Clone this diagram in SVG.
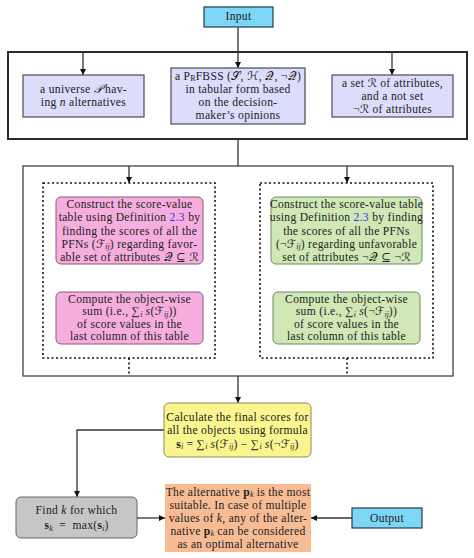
<svg xmlns="http://www.w3.org/2000/svg" width="474" height="558" viewBox="0 0 474 558">
<style>
text{font-family:"Liberation Serif","DejaVu Serif","DejaVu Sans",serif;font-size:11.6px;letter-spacing:0.3px;fill:#222;text-anchor:middle}
.io{fill:#7dd6f5;stroke:#1e3d4a;stroke-width:1.2}
.lav{fill:#dcdcfb;stroke:#4a4a5a;stroke-width:1.2}
.pink{fill:#f6aede;stroke:#8a5a7c;stroke-width:1}
.green{fill:#cfe8b6;stroke:#6f8a60;stroke-width:1}
.yel{fill:#faf58e;stroke:#8c8a5c;stroke-width:1}
.gray{fill:#c6c6c6;stroke:#666;stroke-width:1}
.orng{fill:#f8bc95;stroke:none}
.big{fill:none;stroke:#2a2a2a;stroke-width:2}
.big2{fill:none;stroke:#444;stroke-width:1.3}
.dash{fill:none;stroke:#111;stroke-width:1.6;stroke-dasharray:2 2.5}
.ln{fill:none;stroke:#333;stroke-width:1.3}
.dln{fill:none;stroke:#111;stroke-width:1.6;stroke-dasharray:2 2.5}
.it{font-style:italic}
.b{font-weight:bold}
.sm{font-size:8px;letter-spacing:0}
.blue{fill:#3333dd}
</style>
<defs>
<marker id="ah" viewBox="0 0 8 8" refX="8" refY="4" markerWidth="6" markerHeight="6" orient="auto" markerUnits="userSpaceOnUse">
<path d="M0,0 L8,4 L0,8 z" fill="#111"/>
</marker>
</defs>

<g id="containers">
<rect x="8" y="52" width="459" height="87" class="big"/>
<rect x="23" y="166" width="430" height="210" class="big2"/>
<rect id="dashL" x="43" y="183" width="172" height="175" class="dash"/>
<rect id="dashR" x="260" y="183" width="173" height="175" class="dash"/>
</g>

<g id="connectors">
<path d="M238,27 V68" class="ln" marker-end="url(#ah)"/>
<path d="M83,52 V75" class="ln" marker-end="url(#ah)"/>
<path d="M392,52 V75" class="ln" marker-end="url(#ah)"/>
<path d="M238,139 V166" class="ln"/>
<path d="M129,166 V183" class="ln" marker-end="url(#ah)"/>
<path d="M347,166 V183" class="ln" marker-end="url(#ah)"/>
<path d="M129,358 V376" class="dln"/>
<path d="M347,358 V376" class="dln"/>
<path d="M238,376 V403" class="ln" marker-end="url(#ah)"/>
<path d="M164,430 H77 V497" class="ln" marker-end="url(#ah)"/>
<path d="M137,518 H165" class="ln" marker-end="url(#ah)"/>
<path d="M352,518 H311" class="ln" marker-end="url(#ah)"/>
</g>

<g id="input">
<rect x="204" y="7" width="69" height="20" class="io"/>
<text x="238.5" y="20">Input</text>
</g>

<g id="universe">
<rect x="23" y="75" width="121" height="42" class="lav"/>
<text x="83.5" y="93">a universe <tspan class="it">𝒫</tspan> hav-</text>
<text x="83.5" y="105.5">ing <tspan class="it">n</tspan> alternatives</text>
</g>

<g id="prfbss">
<rect x="171" y="68" width="134" height="56" class="lav"/>
<text x="238" y="79.5">a P<tspan class="sm" dy="1.5">R</tspan><tspan dy="-1.5">FBSS (𝒮, ℋ, 𝒬, ¬𝒬)</tspan></text>
<text x="238" y="93">in tabular form based</text>
<text x="238" y="105.5">on the decision-</text>
<text x="238" y="118.5">maker’s opinions</text>
</g>

<g id="attributes">
<rect x="332" y="75" width="121" height="42" class="lav"/>
<text x="392.5" y="86.5">a set ℛ of attributes,</text>
<text x="392.5" y="100">and a not set</text>
<text x="392.5" y="112.5">¬ℛ of attributes</text>
</g>

<g id="pink1">
<rect x="56" y="197" width="147" height="67" rx="5" class="pink"/>
<text x="129.5" y="208">Construct the score-value</text>
<text x="129.5" y="221.3">table using Definition <tspan class="blue">2.3</tspan> by</text>
<text x="129.5" y="234.6">finding the scores of all the</text>
<text x="129.5" y="247.9">PFNs (ℱ<tspan class="sm it" dy="1.5">ij</tspan><tspan dy="-1.5">) regarding favor-</tspan></text>
<text x="129.5" y="261">able set of attributes 𝒬 ⊆ ℛ</text>
</g>

<g id="pink2">
<rect x="56" y="292" width="147" height="52" rx="5" class="pink"/>
<text x="129.5" y="302.5">Compute the object-wise</text>
<text x="129.5" y="315">sum (i.e., ∑<tspan class="sm it" dy="1.5">i</tspan><tspan dy="-1.5"> </tspan><tspan class="it">s</tspan>(ℱ<tspan class="sm it" dy="1.5">ij</tspan><tspan dy="-1.5">))</tspan></text>
<text x="129.5" y="327.5">of score values in the</text>
<text x="129.5" y="340">last column of this table</text>
</g>

<g id="green1">
<rect x="271" y="197" width="151" height="67" rx="5" class="green"/>
<text x="346.5" y="208">Construct the score-value table</text>
<text x="346.5" y="221.3">using Definition <tspan class="blue">2.3</tspan> by finding</text>
<text x="346.5" y="234.6">the scores of all the PFNs</text>
<text x="346.5" y="247.9">(¬ℱ<tspan class="sm it" dy="1.5">ij</tspan><tspan dy="-1.5">) regarding unfavorable</tspan></text>
<text x="346.5" y="261">set of attributes ¬𝒬 ⊆ ¬ℛ</text>
</g>

<g id="green2">
<rect x="273" y="292" width="147" height="52" rx="5" class="green"/>
<text x="346.5" y="302.5">Compute the object-wise</text>
<text x="346.5" y="315">sum (i.e., ∑<tspan class="sm it" dy="1.5">i</tspan><tspan dy="-1.5"> </tspan><tspan class="it">s</tspan>(¬ℱ<tspan class="sm it" dy="1.5">ij</tspan><tspan dy="-1.5">))</tspan></text>
<text x="346.5" y="327.5">of score values in the</text>
<text x="346.5" y="340">last column of this table</text>
</g>

<g id="final">
<rect x="164" y="403" width="147" height="54" rx="5" class="yel"/>
<text x="237.5" y="420.5">Calculate the final scores for</text>
<text x="237.5" y="434">all the objects using formula</text>
<text x="237.5" y="447.5"><tspan class="b">s</tspan><tspan class="sm it" dy="1.5">i</tspan><tspan dy="-1.5"> = ∑</tspan><tspan class="sm it" dy="1.5">i</tspan><tspan dy="-1.5"> </tspan><tspan class="it">s</tspan>(ℱ<tspan class="sm it" dy="1.5">ij</tspan><tspan dy="-1.5">) − ∑</tspan><tspan class="sm it" dy="1.5">i</tspan><tspan dy="-1.5"> </tspan><tspan class="it">s</tspan>(¬ℱ<tspan class="sm it" dy="1.5">ij</tspan><tspan dy="-1.5">)</tspan></text>
</g>

<g id="findk">
<rect x="16" y="497" width="121" height="41" rx="5" class="gray"/>
<text x="76.5" y="514">Find <tspan class="it">k</tspan> for which</text>
<text x="76.5" y="529" xml:space="preserve"><tspan class="b">s</tspan><tspan class="sm it" dy="1.5">k</tspan><tspan dy="-1.5">  =  max(</tspan><tspan class="b">s</tspan><tspan class="sm it" dy="1.5">i</tspan><tspan dy="-1.5">)</tspan></text>
</g>

<g id="result">
<rect x="165" y="484" width="146" height="68" class="orng"/>
<text x="238" y="495.5">The alternative <tspan class="b">p</tspan><tspan class="sm it" dy="1.5">k</tspan><tspan dy="-1.5"> is the most</tspan></text>
<text x="238" y="508.5">suitable. In case of multiple</text>
<text x="238" y="521.5">values of <tspan class="it">k</tspan>, any of the alter-</text>
<text x="238" y="534.5">native <tspan class="b">p</tspan><tspan class="sm it" dy="1.5">k</tspan><tspan dy="-1.5"> can be considered</tspan></text>
<text x="238" y="547.5">as an optimal alternative</text>
</g>

<g id="output">
<rect x="352" y="508" width="70" height="20" class="io"/>
<text x="387" y="522">Output</text>
</g>
</svg>
